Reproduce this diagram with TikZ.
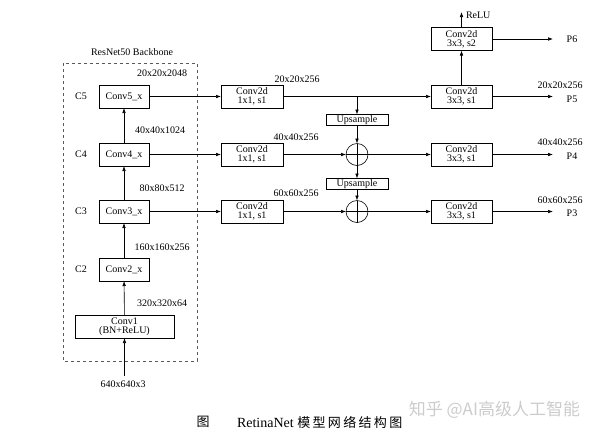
\documentclass[tikz,border=0pt]{standalone}
\usepackage{fontspec}
\setmainfont{Liberation Serif}
\newfontfamily\cjk{Noto Sans CJK SC}
\newfontfamily\cjkwide[LetterSpace=18]{Noto Sans CJK SC}
\usetikzlibrary{arrows.meta}
\begin{document}
\begin{tikzpicture}[x=1pt,y=-1pt,inner sep=0pt,outer sep=0pt,semithick,
>={Latex[length=5pt,width=3.6pt]},
font=\fontsize{10}{10}\selectfont,
sysblock/.style={draw,rectangle,minimum width=50pt,minimum height=23pt,semithick},
convblock/.style={sysblock,minimum width=62pt,align=center,font=\fontsize{10}{9}\selectfont},
upblock/.style={draw,rectangle,minimum width=62pt,minimum height=11pt,semithick},
sumnode/.style={draw,circle,minimum size=22pt,semithick},
dimlabel/.style={anchor=center}]
\useasboundingbox (0,0) rectangle (596,437);
% backbone
\draw[dashed,gray!70!black] (63,63) rectangle (197,361);
\draw (132,52) node (bbtitle) {ResNet50 Backbone};
\draw (124,96.5) node[sysblock] (c5) {Conv5\_x};
\draw (124,154.5) node[sysblock] (c4) {Conv4\_x};
\draw (124,211.5) node[sysblock] (c3) {Conv3\_x};
\draw (124,269.5) node[sysblock] (c2) {Conv2\_x};
\draw (124.5,326.5) node[sysblock,minimum width=99pt,align=center,font=\fontsize{10}{9.5}\selectfont] (c1) {Conv1\\(BN+ReLU)};
\draw (81,96.5) node (lc5) {C5};
\draw (81,154.5) node (lc4) {C4};
\draw (81,211.5) node (lc3) {C3};
\draw (81,269.5) node (lc2) {C2};
\draw (162,73) node[dimlabel] (d5) {20x20x2048};
\draw (160,130) node[dimlabel] (d4) {40x40x1024};
\draw (162,188) node[dimlabel] (d3) {80x80x512};
\draw (162,247) node[dimlabel] (d2) {160x160x256};
\draw (162,303) node[dimlabel] (d1) {320x320x64};
\coordinate (img) at (124.5,376);
\draw (123,384) node (dimg) {640x640x3};
\draw[->] (img) -- (c1);
\draw[->] (c1) -- (c2);
\draw[->] (c2) -- (c3);
\draw[->] (c3) -- (c4);
\draw[->] (c4) -- (c5);
% lateral 1x1
\draw (252,96.5) node[convblock] (lat5) {Conv2d\\1x1, s1};
\draw (252,154.5) node[convblock] (lat4) {Conv2d\\1x1, s1};
\draw (252,211.5) node[convblock] (lat3) {Conv2d\\1x1, s1};
\draw (297,79) node (dl5) {20x20x256};
\draw (296,137) node (dl4) {40x40x256};
\draw (296,193) node (dl3) {60x60x256};
\draw[->] (c5) -- (lat5);
\draw[->] (c4) -- (lat4);
\draw[->] (c3) -- (lat3);
% top-down path
\draw (357,120) node[upblock] (up1) {Upsample};
\draw (357,154.5) node[sumnode] (sum4) {};
\draw (357,184) node[upblock] (up2) {Upsample};
\draw (357,211.5) node[sumnode] (sum3) {};
\draw (sum4.north) -- (sum4.south) (sum4.west) -- (sum4.east);
\draw (sum3.north) -- (sum3.south) (sum3.west) -- (sum3.east);
\coordinate (br5) at (357,96.5);
\draw[->] (br5) -- (up1);
\draw[->] (up1) -- (sum4);
\draw[->] (sum4) -- (up2);
\draw[->] (up2) -- (sum3);
\draw[->] (lat4) -- (sum4);
\draw[->] (lat3) -- (sum3);
% 3x3 outputs
\draw (461.5,39) node[convblock,minimum width=61pt] (p6b) {Conv2d\\3x3, s2};
\draw (461.5,96.5) node[convblock,minimum width=61pt] (p5b) {Conv2d\\3x3, s1};
\draw (461.5,154.5) node[convblock,minimum width=61pt] (p4b) {Conv2d\\3x3, s1};
\draw (461.5,211.5) node[convblock,minimum width=61pt] (p3b) {Conv2d\\3x3, s1};
\draw[->] (lat5) -- (p5b);
\draw[->] (sum4) -- (p4b);
\draw[->] (sum3) -- (p3b);
\draw[->] (p5b) -- (p6b);
\coordinate (relu) at (461.5,12);
\draw[->] (p6b) -- (relu);
\draw (466,15) node[anchor=west] (lrelu) {ReLU};
\coordinate (o6) at (553,39);
\coordinate (o5) at (553,96.5);
\coordinate (o4) at (553,154.5);
\coordinate (o3) at (553,211.5);
\draw[->] (p6b) -- (o6);
\draw[->] (p5b) -- (o5);
\draw[->] (p4b) -- (o4);
\draw[->] (p3b) -- (o3);
\draw (572,39) node (lp6) {P6};
\draw (572,99) node (lp5) {P5};
\draw (572,156) node (lp4) {P4};
\draw (572,213) node (lp3) {P3};
\draw (560,85) node (dp5) {20x20x256};
\draw (560,142) node (dp4) {40x40x256};
\draw (560,200) node (dp3) {60x60x256};
% caption
\draw (203,422) node[font=\cjk\fontsize{13}{13}\selectfont] (capfig) {图};
\draw (237,422) node[anchor=west,font=\fontsize{14}{14}\selectfont] (captext) {RetinaNet {\cjkwide\fontsize{13}{13}\selectfont 模型网络结构图}};
\draw (580,410) node[anchor=east,text=gray!40,font=\fontsize{17}{17}\selectfont\sffamily] (wmark) {{\cjk 知乎 @AI高级人工智能}};
\end{tikzpicture}
\end{document}
